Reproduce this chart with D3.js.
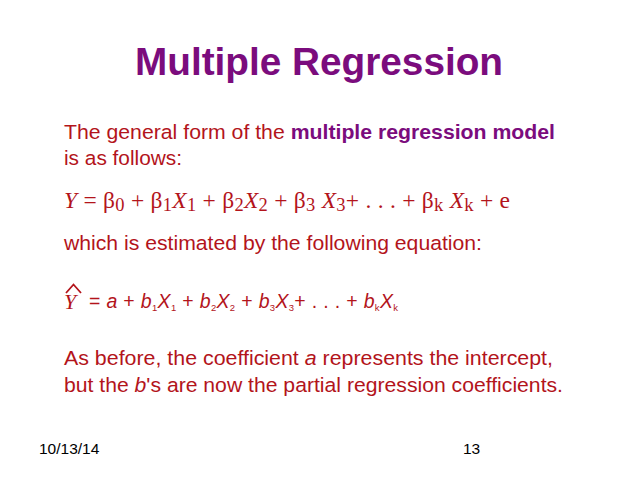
<!DOCTYPE html>
<html>
<head>
<meta charset="utf-8">
<script src="https://cdn.jsdelivr.net/npm/d3@7"></script>
<style>
  body { margin: 0; background: #fff; }
  svg { display: block; }
</style>
</head>
<body>
<div id="slide"></div>
<script>
// --- slide text ---
const titleText = "Multiple Regression";
const introRuns = [
  [{ t: "The general form of the " }, { t: "multiple regression model", bold: true }],
  [{ t: "is as follows:" }]
];
// population model: Y = β0 + β1X1 + ... + βkXk + e
const modelRuns = [
  { t: "Y", it: true }, { t: " = β" }, { t: "0", sub: true }, { t: " + β" }, { t: "1", sub: true },
  { t: "X", it: true }, { t: "1", sub: true }, { t: " + β" }, { t: "2", sub: true },
  { t: "X", it: true }, { t: "2", sub: true }, { t: " + β" }, { t: "3", sub: true },
  { t: " X", it: true }, { t: "3", sub: true }, { t: "+ . . . + β" }, { t: "k", sub: true },
  { t: " X", it: true }, { t: "k", sub: true }, { t: " + e" }
];
const estText = "which is estimated by the following equation:";
const estRuns = [
  { t: "= " }, { t: "a", it: true }, { t: " + " }, { t: "b", it: true }, { t: "1", sub: true },
  { t: "X", it: true }, { t: "1", sub: true }, { t: " + " }, { t: "b", it: true }, { t: "2", sub: true },
  { t: "X", it: true }, { t: "2", sub: true }, { t: " + " }, { t: "b", it: true }, { t: "3", sub: true },
  { t: "X", it: true }, { t: "3", sub: true }, { t: "+ . . . + " }, { t: "b", it: true }, { t: "k", sub: true },
  { t: "X", it: true }, { t: "k", sub: true }
];
const closingRuns = [
  [{ t: "As before, the coefficient " }, { t: "a", it: true }, { t: " represents the intercept," }],
  [{ t: "but the " }, { t: "b", it: true }, { t: "'s are now the partial regression coefficients." }]
];
const footerDate = "10/13/14";
const footerPage = "13";

// --- setup ---
const W = 638, H = 479;
const purple = "#7b0c7d", red = "#b3141b";
const sans = "'Liberation Sans', Arial, sans-serif";
const serif = "'Liberation Serif', 'Times New Roman', serif";

const svg = d3.select("#slide").append("svg")
  .attr("width", W).attr("height", H);

svg.append("rect").attr("width", W).attr("height", H).attr("fill", "#fff");

// title
svg.append("text")
  .attr("x", 319).attr("y", 75)
  .attr("text-anchor", "middle")
  .attr("font-family", sans).attr("font-weight", "bold")
  .attr("font-size", 38).attr("fill", purple)
  .attr("textLength", 368).attr("lengthAdjust", "spacingAndGlyphs")
  .text(titleText);

// one line of mixed runs; subscripts are lowered and then put back
function line(x, y, runs, opts) {
  const text = svg.append("text")
    .attr("x", x).attr("y", y)
    .attr("font-family", opts.family).attr("font-size", opts.size)
    .attr("fill", red)
    .attr("xml:space", "preserve");
  if (opts.width) text.attr("textLength", opts.width).attr("lengthAdjust", opts.adjust || "spacingAndGlyphs");
  let shifted = 0;
  runs.forEach(r => {
    const ts = text.append("tspan").text(r.t);
    if (r.bold) ts.attr("font-weight", "bold").attr("fill", purple);
    if (r.it) ts.attr("font-style", "italic");
    if (r.sub) {
      ts.attr("font-size", opts.subSize).attr("dy", opts.subShift - shifted);
      shifted = opts.subShift;
    } else if (shifted) {
      ts.attr("dy", -shifted);
      shifted = 0;
    }
  });
  return text;
}

const body = w => ({ family: sans, size: 20.5, width: w });
line(64, 139, introRuns[0], body(491));
line(64, 165, introRuns[1], body(118));

line(64, 208, modelRuns, { family: serif, size: 23.5, subSize: 18.5, subShift: 3, width: 446, adjust: "spacing" });

line(64, 250, [{ t: estText }], body(418));

// Y hat
svg.append("text")
  .attr("x", 64).attr("y", 309)
  .attr("font-family", serif).attr("font-style", "italic")
  .attr("font-size", 22).attr("fill", red)
  .text("Y");
svg.append("path")
  .attr("d", d3.line()([[66, 293], [73.5, 284.5], [81, 293]]))
  .attr("fill", "none").attr("stroke", red).attr("stroke-width", 1.8);
line(89, 308, estRuns, { family: sans, size: 19.5, subSize: 9.5, subShift: 3, width: 309, adjust: "spacing" });

line(64, 365, closingRuns[0], body(489));
line(64, 392, closingRuns[1], body(499));

// footer
svg.append("text")
  .attr("x", 39).attr("y", 454)
  .attr("font-family", sans).attr("font-size", 15.5).attr("fill", "#000")
  .text(footerDate);
svg.append("text")
  .attr("x", 463).attr("y", 454)
  .attr("font-family", sans).attr("font-size", 15.5).attr("fill", "#000")
  .text(footerPage);
</script>
</body>
</html>
